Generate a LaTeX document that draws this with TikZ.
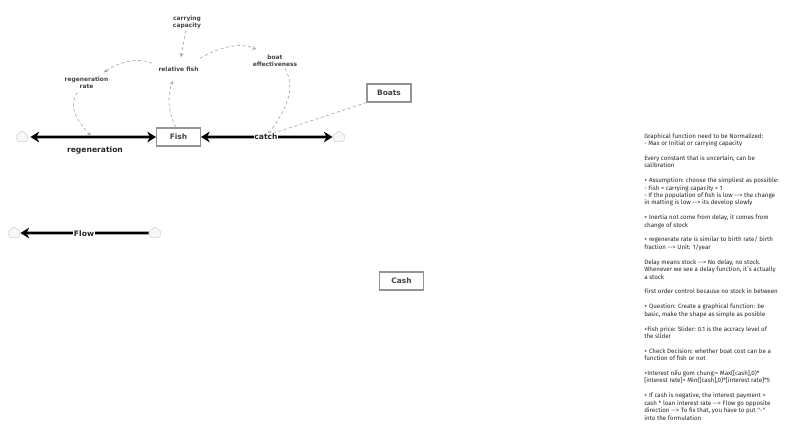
\documentclass[tikz,border=0pt]{standalone}
\usepackage{fontspec}
\setmainfont{DejaVu Sans}
\newfontfamily\notefont{Fira Sans}
\usetikzlibrary{arrows.meta,shapes.symbols}
\definecolor{lbl}{HTML}{444444}
\definecolor{lnk}{HTML}{AAAAAA}
\tikzset{
  stockbox/.style={draw=black!42,line width=0.8pt,fill=white,minimum width=33pt,minimum height=13.5pt,inner sep=0pt,font=\bfseries\fontsize{5.6}{6}\selectfont,text=lbl},
  varlabel/.style={align=center,inner sep=1pt,font=\bfseries\fontsize{4.45}{5.6}\selectfont,text=lbl},
  flowlabel/.style={inner sep=0.5pt,font=\bfseries\fontsize{5.7}{6}\selectfont,text=black!85},
  cloudnode/.style={cloud,cloud puffs=5,cloud puff arc=140,aspect=1.1,draw=black!18,fill=black!3,line width=0.4pt,minimum width=9.5pt,minimum height=8.5pt,inner sep=0pt},
  flowline/.style={line width=1.9pt,black},
  bothtips/.style={{Stealth[length=6.5pt,width=8pt,inset=2pt]}-{Stealth[length=6.5pt,width=8pt,inset=2pt]}},
  lefttip/.style={{Stealth[length=6.5pt,width=8pt,inset=2pt]}-},
  linkline/.style={draw=lnk,line width=0.5pt,dash pattern=on 2.4pt off 1.8pt,-{Stealth[length=3pt,width=3pt]}},
  notetext/.style={align=left,anchor=north west,inner sep=0pt,text=black!85,font=\notefont\fontsize{4.65}{5.565}\selectfont}
}
\begin{document}
\begin{tikzpicture}[x=0.75pt,y=-0.75pt]
\useasboundingbox (0,0) rectangle (800,445);
\node[stockbox] (fish) at (178.5,137) {Fish};
\node[stockbox] (boats) at (389,93) {Boats};
\node[stockbox] (cash) at (401.5,281) {Cash};
\node[cloudnode] (c1) at (22,137) {};
\node[cloudnode] (c2) at (339,137) {};
\node[cloudnode] (c3) at (14,233) {};
\node[cloudnode] (c4) at (155,233) {};
\draw[flowline,bothtips,shorten <=1.5pt] (c1) -- (fish);
\draw[flowline,bothtips] (fish) -- (c2);
\draw[flowline,lefttip] (c3) -- (c4);
\coordinate (regv) at (91,136);
\coordinate (catchv) at (268,135);
\node[varlabel] (cc) at (187,22.5) {carrying\\capacity};
\node[varlabel] (rf) at (178.5,69) {relative fish};
\node[varlabel] (rr) at (86.5,83) {regeneration\\rate};
\node[varlabel] (be) at (275,61) {boat\\effectiveness};
\draw[linkline] (cc) -- ([shift={(2.5,-8)}]rf.north);
\draw[linkline] ([shift={(-5,-2)}]rf.north west) .. controls (140,58) and (122,60) .. ([shift={(-6,-3)}]rr.north east);
\draw[linkline] ([shift={(-9,2)}]rr.south) .. controls (67,106) and (78,122) .. (regv);
\draw[linkline] ([xshift=-2pt]fish.north) .. controls (168,112) and (167,95) .. ([shift={(-5.5,8)}]rf.south);
\draw[linkline] ([shift={(0,-7)}]rf.north east) .. controls (220,47) and (240,42) .. ([shift={(5,-4)}]be.north west);
\draw[linkline] ([shift={(10,0)}]be.south) .. controls (297,90) and (285,110) .. (catchv);
\draw[linkline] (boats.south west) -- (catchv);
\node[flowlabel] (regen) at (95,150) {regeneration};
\node[flowlabel,fill=white] (catch) at (266,137) {catch};
\node[flowlabel,fill=white] (flow) at (84,234) {Flow};
\node[notetext] (note) at (644,133) {Graphical function need to be Normalized:\\
- Max or Initial or carrying capacity\\
\mbox{}\\
Every constant that is uncertain, can be\\
calibration\\
\mbox{}\\
+ Assumption: choose the simpliest as possible:\\
- Fish = carrying capacity = 1\\
- If the population of fish is low --> the change\\
in matting is low --> its develop slowly\\
\mbox{}\\
+ Inertia not come from delay, it comes from\\
change of stock\\
\mbox{}\\
+ regenerate rate is similar to birth rate/ birth\\
fraction --> Unit: 1/year\\
\mbox{}\\
Delay means stock --> No delay, no stock.\\
Whenever we see a delay function, it`s actually\\
a stock\\
\mbox{}\\
First order control because no stock in between\\
\mbox{}\\
+ Question: Create a graphical function: be\\
basic, make the shape as simple as posible\\
\mbox{}\\
+Fish price: Slider: 0.1 is the accracy level of\\
the slider\\
\mbox{}\\
+ Check Decision: whether boat cost can be a\\
function of fish or not\\
\mbox{}\\
+Interest nếu gom chung:\kern0pt= Max([cash],0)*\\
{[}interest rate]+ Min([cash],0)*[interest rate]*5\\
\mbox{}\\
+ If cash is negative, the interest payment =\\
cash * loan interest rate --> Flow go opposite\\
direction --> To fix that, you have to put ''-''\\
into the formulation};
\end{tikzpicture}
\end{document}
